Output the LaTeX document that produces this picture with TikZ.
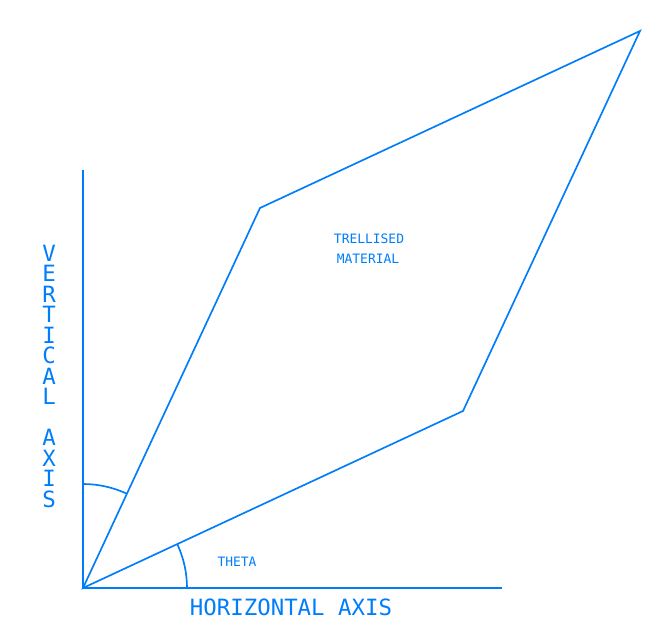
\documentclass[tikz,border=0pt]{standalone}
\usepackage{fontspec}
\newfontfamily\plotfont{DejaVu Sans Mono}
\usetikzlibrary{calc,angles,quotes}
\definecolor{plotblue}{RGB}{0,125,250}

\begin{document}
\begin{tikzpicture}[x=0.75pt,y=0.75pt,line width=1.25pt,plotblue,
    bigtext/.style={font=\plotfont\fontsize{16.8}{17}\selectfont,inner sep=0pt},
    smalltext/.style={font=\plotfont\fontsize{9.7}{10}\selectfont,inner sep=0pt}]
        \useasboundingbox (-83,-44) rectangle (587,588);
        % side lengths of the trellis (long and short component of each edge)
        \pgfmathsetmacro{\Along}{380}
        \pgfmathsetmacro{\Ashort}{177}
        \pgfmathsetmacro{\ArcRad}{104}

        \coordinate (origin) at (0,0);
        \coordinate (xend) at (419,0);
        \coordinate (yend) at (0,418);
        \coordinate (lowcorner) at (\Along,\Ashort);
        \coordinate (upcorner) at (\Ashort,\Along);
        \coordinate (farcorner) at ($(lowcorner)+(upcorner)$);

        % axes
        \draw (yend) -- (origin) -- (xend);
        % trellised material
        \draw[line join=miter] (origin) -- (upcorner) -- (farcorner) -- (lowcorner) -- cycle;

        \pic [draw, angle radius=\ArcRad*0.75pt] {angle = xend--origin--lowcorner};
        \pic [draw, angle radius=\ArcRad*0.75pt] {angle = upcorner--origin--yend};

        \node[smalltext] (theta) at (154,26) {THETA};
        \node[smalltext] (trell) at (286,349) {TRELLISED};
        \node[smalltext] (mater) at (285,329) {MATERIAL};
        \node[bigtext] (haxis) at (208,-19) {HORIZONTAL AXIS};
        % vertical label, one letter at a time
        \foreach \ch [count=\i] in {V,E,R,T,I,C,A,L,{},A,X,I,S}
          \node[bigtext] (vaxis\i) at (-34,{335-20.5*(\i-1)}) {\ch};
    \end{tikzpicture}
\end{document}
